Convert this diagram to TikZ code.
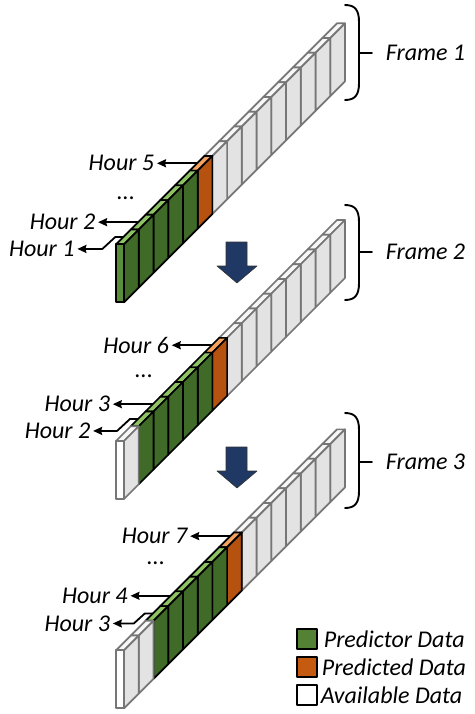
\documentclass[tikz,border=0pt]{standalone}
\usepackage{fontspec}
\setmainfont{Carlito}
\usetikzlibrary{positioning,calc,arrows.meta}

\definecolor{grnside}{HTML}{3F6A27}
\definecolor{grntop}{HTML}{8DC363}
\definecolor{grnfront}{HTML}{5A8E3A}
\definecolor{orgside}{HTML}{B5520F}
\definecolor{orgtop}{HTML}{F4A25E}
\definecolor{gryside}{HTML}{E3E3E3}
\definecolor{grytop}{HTML}{F7F7F7}
\definecolor{gryline}{HTML}{767676}
\definecolor{keygrn}{HTML}{548235}
\definecolor{keyorg}{HTML}{C55A11}
\definecolor{downblue}{HTML}{1F3864}

% one slab of a frame: index, side colour, top colour, edge colour
\newcommand{\ddk}{14.73}
\newcommand{\slabw}{8}
\newcommand{\slabh}{58}
\newcommand{\slab}[4]{%
\filldraw[fill=#3,draw=#4] (#1*\ddk,-#1*\ddk) -- ++(\slabw,0) -- ++(\ddk,-\ddk) -- ++(-\slabw,0) -- cycle;
\filldraw[fill=#2,draw=#4] (#1*\ddk+\slabw,-#1*\ddk) -- ++(\ddk,-\ddk) -- ++(0,\slabh) -- ++(-\ddk,\ddk) -- cycle;}

\tikzset{
  hourlbl/.style={font=\fontsize{24}{28}\selectfont\itshape, inner sep=2pt},
  hourdots/.style={font=\fontsize{24}{28}\selectfont\itshape, inner sep=0pt, anchor=base},
  hourarr/.style={line width=1.8pt, -{Stealth[length=9pt,width=8pt,inset=1pt]}},
  framebrace/.style={line width=1.9pt, line cap=round},
  keybox/.style={line width=1.9pt, draw=black}
}

\begin{document}
\begin{tikzpicture}[x=1pt,y=-1pt,line join=round,line width=1.7pt]
\useasboundingbox (0,0) rectangle (474,714);
% Frame 1
\begin{scope}[shift={(116,244.3)}]
\foreach \k in {14,13,...,6} {\slab{\k}{gryside}{grytop}{gryline}}
\slab{5}{orgside}{orgtop}{black}
\foreach \k in {4,3,...,0} {\slab{\k}{grnside}{grntop}{black}}
\filldraw[fill=grnfront,draw=black] (0,0) rectangle (\slabw,\slabh);
\coordinate (f1s5) at (5.5*\ddk,-5.5*\ddk);
\coordinate (f1s1) at (1.5*\ddk,-1.5*\ddk);
\coordinate (f1s0) at (0.5*\ddk,-0.5*\ddk);
\end{scope}
\node[hourlbl, left=40pt of f1s5] (f1l5) {Hour 5};
\node[hourlbl, left=40pt of f1s1] (f1l2) {Hour 2};
\node[hourlbl, anchor=east] (f1l1) at ($(f1s0)+(-46,12)$) {Hour 1};
\node[hourdots] (f1dots) at (126,199) {...};
\draw[hourarr] (f1s5) -- (f1l5.east);
\draw[hourarr] (f1s1) -- (f1l2.east);
\draw[hourarr] (f1s0) -- ++(-8,0) -- ++(-13,12) -- (f1l1.east);
% Frame 2
\begin{scope}[shift={(116,441)}]
\foreach \k in {14,13,...,7} {\slab{\k}{gryside}{grytop}{gryline}}
\slab{6}{orgside}{orgtop}{black}
\foreach \k in {5,4,...,1} {\slab{\k}{grnside}{grntop}{black}}
\slab{0}{gryside}{grytop}{gryline}
\filldraw[fill=white,draw=gryline] (0,0) rectangle (\slabw,\slabh);
\coordinate (f2s6) at (6.5*\ddk,-6.5*\ddk);
\coordinate (f2s2) at (2.5*\ddk,-2.5*\ddk);
\coordinate (f2s1) at (1.5*\ddk,-1.5*\ddk);
\end{scope}
\node[hourlbl, left=40pt of f2s6] (f2l6) {Hour 6};
\node[hourlbl, left=40pt of f2s2] (f2l3) {Hour 3};
\node[hourlbl, anchor=east] (f2l2) at ($(f2s1)+(-45,12)$) {Hour 2};
\node[hourdots] (f2dots) at (144,377) {...};
\draw[hourarr] (f2s6) -- (f2l6.east);
\draw[hourarr] (f2s2) -- (f2l3.east);
\draw[hourarr] (f2s1) -- ++(-8,0) -- ++(-13,12) -- (f2l2.east);
% Frame 3
\begin{scope}[shift={(116,650.3)}]
\foreach \k in {14,13,...,8} {\slab{\k}{gryside}{grytop}{gryline}}
\slab{7}{orgside}{orgtop}{black}
\foreach \k in {6,5,...,2} {\slab{\k}{grnside}{grntop}{black}}
\slab{1}{gryside}{grytop}{gryline}
\slab{0}{gryside}{grytop}{gryline}
\filldraw[fill=white,draw=gryline] (0,0) rectangle (\slabw,\slabh);
\coordinate (f3s7) at (7.75*\ddk,-7.75*\ddk);
\coordinate (f3s3) at (3.7*\ddk,-3.7*\ddk);
\coordinate (f3s2) at (2.5*\ddk,-2.5*\ddk);
\end{scope}
\node[hourlbl, left=40pt of f3s7] (f3l7) {Hour 7};
\node[hourlbl, left=40pt of f3s3] (f3l4) {Hour 4};
\node[hourlbl, anchor=east] (f3l3) at ($(f3s2)+(-40,10)$) {Hour 3};
\node[hourdots] (f3dots) at (156,564) {...};
\draw[hourarr] (f3s7) -- (f3l7.east);
\draw[hourarr] (f3s3) -- (f3l4.east);
\draw[hourarr] (f3s2) -- ++(-8,0) -- ++(-11,10) -- (f3l3.east);
% braces and frame names
\foreach \t/\m/\n in {5/53/1, 205/252/2, 413/462/3} {
  \draw[framebrace] (345,\t) .. controls (355,\t) and (359,\t+5) .. (359,\t+17)
    -- (359,\t+78) .. controls (359,\t+90) and (355,\t+95) .. (345,\t+95);
  \draw[framebrace] (359,\m) -- (372,\m);
  \node[hourlbl, anchor=west] (frame\n) at (383,\m) {Frame \n};
}
% downward arrows
\foreach \t in {242,447} {
  \filldraw[fill=downblue,draw=black!80,line width=0.6pt] (226,\t) -- (247,\t) -- (247,\t+24)
    -- (257,\t+24) -- (237,\t+41) -- (217,\t+24) -- (226,\t+24) -- cycle;
}
% key
\draw[keybox,fill=keygrn] (297,629) rectangle (317,649);
\draw[keybox,fill=keyorg] (297,657) rectangle (317,677);
\draw[keybox,fill=white] (297,685) rectangle (317,705);
\node[hourlbl, anchor=west] (keypred) at (321,639) {Predictor Data};
\node[hourlbl, anchor=west] (keyout) at (319,667) {Predicted Data};
\node[hourlbl, anchor=west] (keyavail) at (318,695) {Available Data};
\end{tikzpicture}
\end{document}
